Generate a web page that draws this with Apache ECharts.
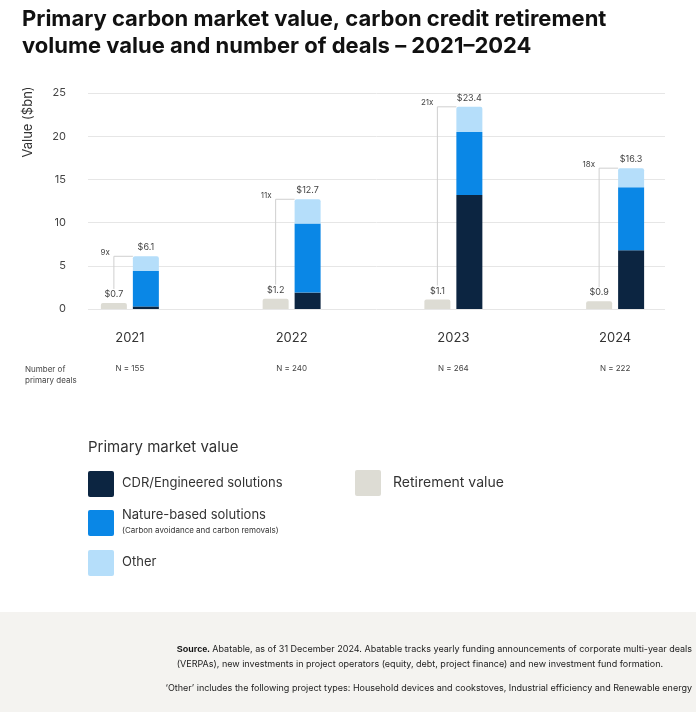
<!DOCTYPE html><html><head><meta charset="utf-8">
<script src="https://cdn.jsdelivr.net/npm/echarts@6/dist/echarts.min.js"></script>
<style>html,body{margin:0;padding:0;background:#fff}#c{width:696px;height:712px}</style></head><body><div id="c"></div>
<script>
const years=['2021','2022','2023','2024'];
const retirement=[0.7,1.2,1.1,0.9];
const cdr=[0.3,1.9,13.2,6.8];
const nature=[4.1,8.0,7.3,7.3];
const other=[1.7,2.8,2.9,2.2];
const totals=[6.1,12.7,23.4,16.3];
const ratios=['9x','11x','21x','18x'];
const deals=['N = 155','N = 240','N = 264','N = 222'];
const yTicks=[0,5,10,15,20,25];
const C={cdr:'#0c2541',nat:'#0a87e6',oth:'#b5defa',ret:'#dddcd4'};
const ch=echarts.init(document.getElementById('c'));
const FF='Inter, "Noto Sans", sans-serif';
ch.setOption({
 animation:false,
 textStyle:{fontFamily:FF},
 grid:[{left:88,right:31,top:93,height:216},{left:49,right:-4,top:93,height:216}],
 xAxis:[
  {gridIndex:0,type:'category',data:years,show:false},
  {gridIndex:1,type:'category',data:years,axisLine:{show:false},axisTick:{show:false},
   axisLabel:{color:'#333',fontSize:13,margin:22,formatter:(v,i)=>v+'\n{n|'+deals[i]+'}',
   rich:{n:{fontSize:8,color:'#444',lineHeight:48,verticalAlign:'middle'}},lineHeight:14}}
 ],
 yAxis:[
  {gridIndex:0,type:'value',min:0,max:25,interval:5,axisLine:{show:false},axisTick:{show:false},
   axisLabel:{color:'#444',fontSize:11,margin:22},splitLine:{lineStyle:{color:'#e6e6e6'}}},
  {gridIndex:1,type:'value',min:0,max:25,show:false}
 ],
 series:[
  {type:'bar',xAxisIndex:1,yAxisIndex:1,data:retirement,barWidth:26,barGap:'23%',
   itemStyle:{color:C.ret,borderRadius:[2,2,0,0]},label:{show:true,position:'top',formatter:p=>'$'+p.value,fontSize:9,color:'#444',distance:4}},
  {type:'bar',xAxisIndex:1,yAxisIndex:1,stack:'p',data:cdr,barWidth:26,itemStyle:{color:C.cdr}},
  {type:'bar',xAxisIndex:1,yAxisIndex:1,stack:'p',data:nature,barWidth:26,itemStyle:{color:C.nat}},
  {type:'bar',xAxisIndex:1,yAxisIndex:1,stack:'p',data:other,barWidth:26,itemStyle:{color:C.oth,borderRadius:[2,2,0,0]},
   label:{show:true,position:'top',formatter:p=>'$'+totals[p.dataIndex],fontSize:9,color:'#444',distance:4}},
  {type:'custom',xAxisIndex:1,yAxisIndex:1,z:1,data:years.map((y,i)=>[i,retirement[i],totals[i]]),
   renderItem:(params,api)=>{
     const i=api.value(0);const b=api.coord([i,api.value(1)]);const t=api.coord([i,api.value(2)]);
     const x=b[0]-16;const xe=b[0]+3;
     return {type:'group',children:[
      {type:'polyline',shape:{points:[[x,b[1]-14],[x,t[1]],[xe,t[1]]]},style:{stroke:'#cfcfcf',lineWidth:1,fill:null}},
      {type:'text',style:{text:ratios[i],x:x-4,y:t[1],align:'right',verticalAlign:'bottom',fontSize:8,fill:'#444',fontFamily:FF}}
     ]};
   }}
 ],
 graphic:[
  {type:'text',left:22,top:6,style:{text:'Primary carbon market value, carbon credit retirement\nvolume value and number of deals – 2021–2024',fontSize:22,fontWeight:'bold',fill:'#111',lineHeight:27,fontFamily:FF}},
  {type:'text',x:28,y:122,rotation:Math.PI/2,style:{text:'Value ($bn)',x:0,y:0,align:'center',verticalAlign:'middle',fontSize:13,fill:'#333',fontFamily:FF}},
  {type:'text',left:25,top:364,style:{text:'Number of\nprimary deals',fontSize:8,fill:'#444',lineHeight:11,fontFamily:FF}},
  {type:'text',left:88,top:440,style:{text:'Primary market value',fontSize:15,fill:'#333',fontFamily:FF}},
  {type:'rect',shape:{x:88,y:471,width:26,height:26,r:2},style:{fill:C.cdr}},
  {type:'text',left:122,top:477,style:{text:'CDR/Engineered solutions',fontSize:13,fill:'#333',fontFamily:FF}},
  {type:'rect',shape:{x:355,y:470,width:26,height:26,r:2},style:{fill:C.ret}},
  {type:'text',left:393,top:476,style:{text:'Retirement value',fontSize:14,fill:'#333',fontFamily:FF}},
  {type:'rect',shape:{x:88,y:510,width:26,height:26,r:2},style:{fill:C.nat}},
  {type:'text',left:122,top:509,style:{text:'Nature-based solutions',fontSize:13,fill:'#333',fontFamily:FF}},
  {type:'text',left:122,top:527,style:{text:'(Carbon avoidance and carbon removals)',fontSize:8,fill:'#333',fontFamily:FF}},
  {type:'rect',shape:{x:88,y:550,width:26,height:26,r:2},style:{fill:C.oth}},
  {type:'text',left:122,top:556,style:{text:'Other',fontSize:13,fill:'#333',fontFamily:FF}},
  {type:'rect',shape:{x:0,y:612,width:696,height:100},style:{fill:'#f4f3f0'}},
  {type:'text',right:4,top:642,style:{text:'{b|Source.} Abatable, as of 31 December 2024. Abatable tracks yearly funding announcements of corporate multi-year deals\n(VERPAs), new investments in project operators (equity, debt, project finance) and new investment fund formation.',
   align:'right',fontSize:9,fill:'#222',lineHeight:15,fontFamily:FF,rich:{b:{fontWeight:'bold',fontSize:9,fill:'#111'}}}},
  {type:'text',right:4,top:684,style:{text:'‘Other’ includes the following project types: Household devices and cookstoves, Industrial efficiency and Renewable energy',align:'right',fontSize:9,fill:'#222',fontFamily:FF}}
 ]
});
</script></body></html>
